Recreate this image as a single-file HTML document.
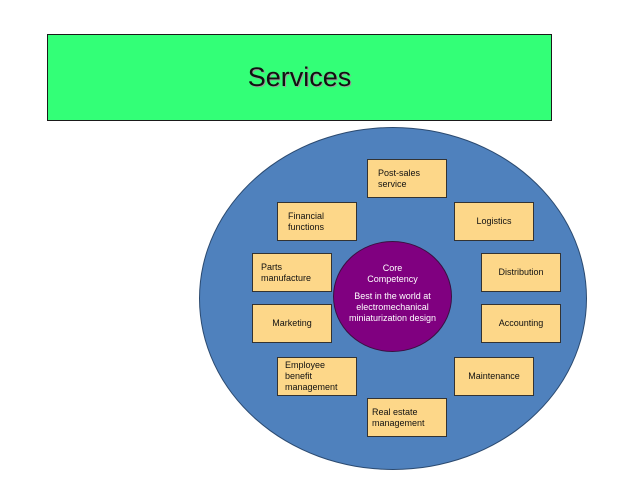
<!DOCTYPE html>
<html><head><style>
body{margin:0;width:638px;height:479px;background:#fff;position:relative;overflow:hidden;font-family:"Liberation Sans",sans-serif}
.t{position:absolute;left:47px;top:34px;width:505px;height:87px;background:#33ff77;border:1px solid #1a1a1a;box-sizing:border-box;display:flex;align-items:center;justify-content:center;font-size:27px;color:#111;text-shadow:1px 1px 0 #9a9a9a}
.e{position:absolute;left:199px;top:127px;width:388px;height:343px;border-radius:50%;background:#4f81bd;border:1.5px solid #2b4a70;box-sizing:border-box}
.c{position:absolute;left:333px;top:241px;width:119px;height:111px;border-radius:50%;background:#800080;border:1px solid #3a1040;box-sizing:border-box;color:#fff;font-size:9px;text-align:center;line-height:11px;padding-top:21px}
.b{position:absolute;width:80px;height:39px;background:#fdd789;border:1px solid #333;box-sizing:border-box;font-size:9px;line-height:11px;color:#111;display:flex;align-items:center}
.l{padding-left:10px}
.m{justify-content:center}
</style></head><body>
<div class="t">Services</div>
<div class="e"></div>
<div class="b l" style="left:367px;top:159px">Post-sales<br>service</div>
<div class="b l" style="left:277px;top:202px">Financial<br>functions</div>
<div class="b m" style="left:454px;top:202px">Logistics</div>
<div class="b l" style="left:252px;top:253px;padding-left:8px">Parts<br>manufacture</div>
<div class="b m" style="left:481px;top:253px">Distribution</div>
<div class="b m" style="left:252px;top:304px">Marketing</div>
<div class="b m" style="left:481px;top:304px">Accounting</div>
<div class="b l" style="left:277px;top:357px;padding-left:7px">Employee<br>benefit<br>management</div>
<div class="b m" style="left:454px;top:357px">Maintenance</div>
<div class="b l" style="left:367px;top:398px;padding-left:4px">Real estate<br>management</div>
<div class="c">Core<br>Competency<div style="height:6px"></div>Best in the world at<br>electromechanical<br>miniaturization design</div>
</body></html>
